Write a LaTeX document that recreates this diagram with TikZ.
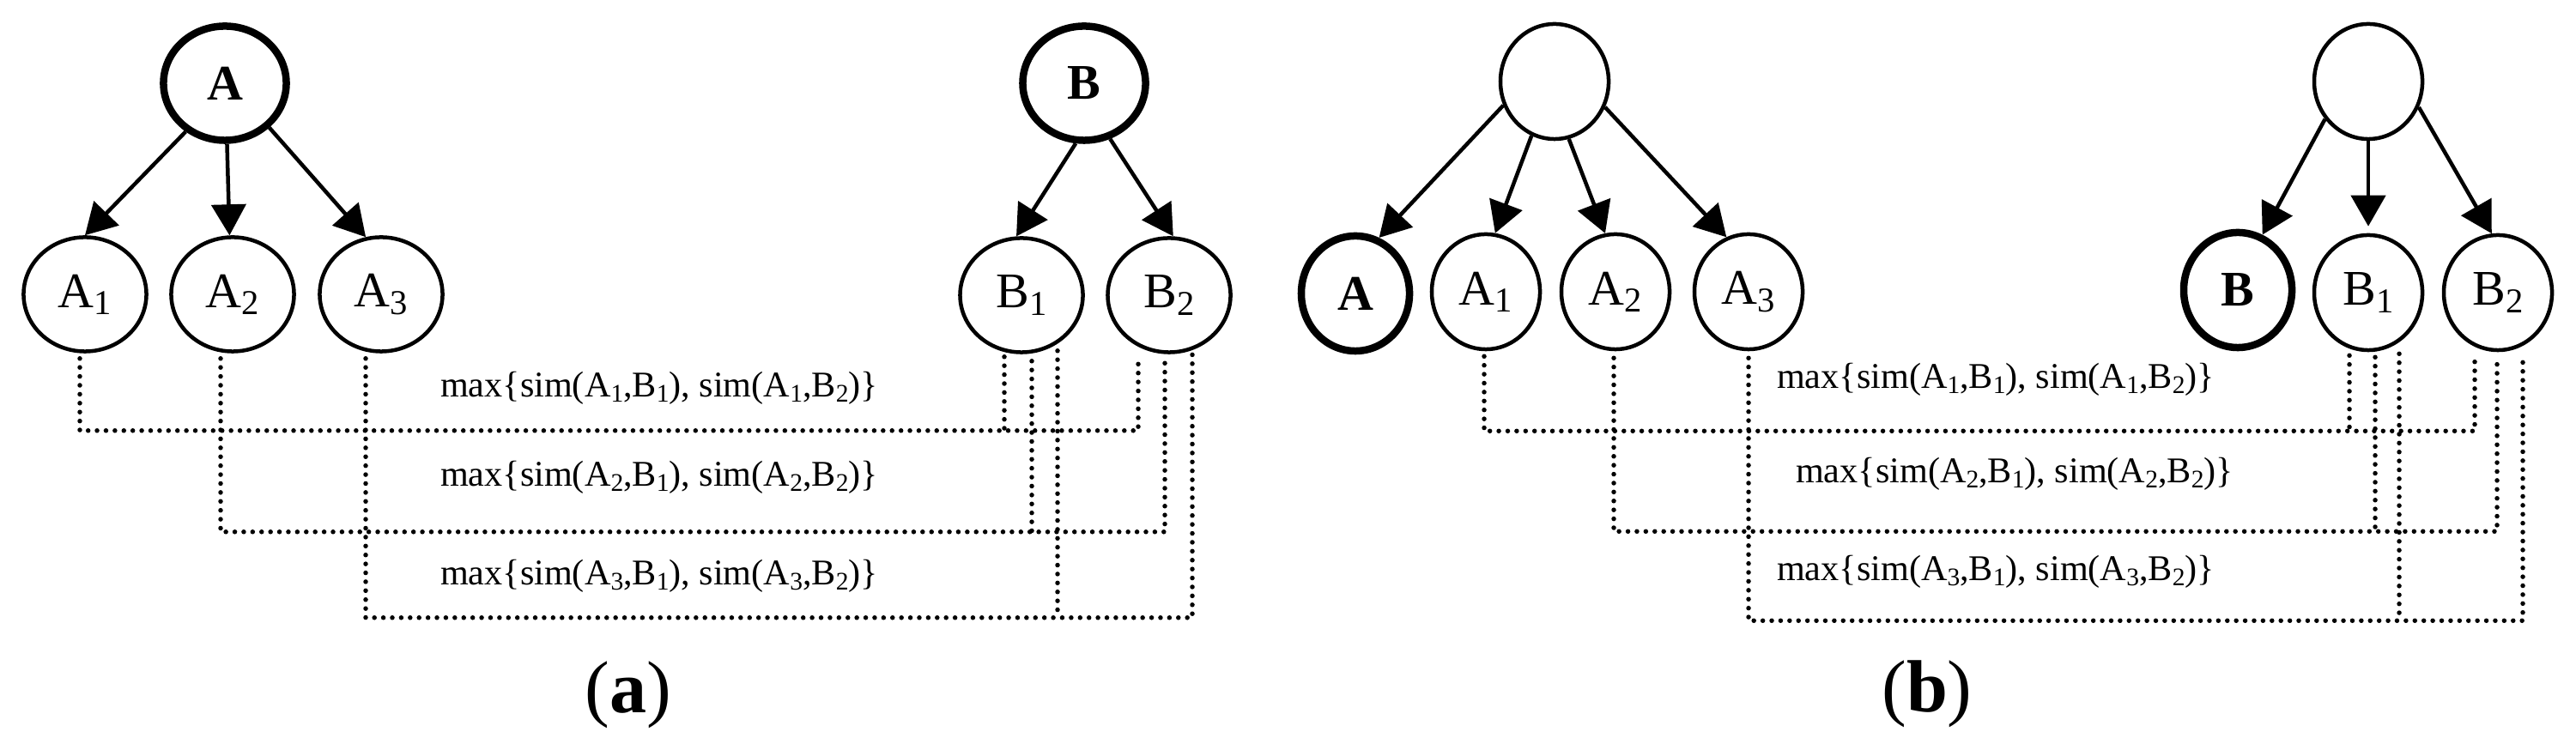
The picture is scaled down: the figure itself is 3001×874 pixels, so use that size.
\documentclass[tikz,border=0pt]{standalone}
\usepackage{fontspec}
\setmainfont{Liberation Serif}
\usepackage{graphicx}
\usetikzlibrary{calc,arrows.meta,shapes.geometric}
\def\lowidx#1{\raisebox{-0.14em}{\scalebox{0.7}{#1}}}

\begin{document}
\begin{tikzpicture}[x=0.01cm, y=-0.01cm,
		wide/.style={ellipse, draw, line width=0.045cm, inner sep=0pt, minimum width=1.43cm, minimum height=1.33cm, font=\fontsize{16.5}{18}\selectfont},
		narrow/.style={wide, minimum width=1.26cm, minimum height=1.34cm},
		heavy/.style={line width=0.085cm, font=\fontsize{16.5}{18}\selectfont\bfseries},
		arr/.style={line width=0.045cm, -{Triangle[length=0.36cm, width=0.40cm]}},
		dots/.style={line width=0.055cm, line cap=round, dash pattern=on 0pt off 0.104cm},
		formula/.style={anchor=base, font=\fontsize{12}{14}\selectfont},
		caption/.style={anchor=base, font=\fontsize{24.5}{28}\selectfont}]
		%%%%% START %%%%%
		
		\useasboundingbox (0, 0) rectangle (3001, 874);
		
		% (a)
		\node[wide, heavy] (A) at (262, 97) {A};
		\node[wide] (A1) at (99, 343) {A\lowidx{1}};
		\node[wide] (A2) at (271, 343) {A\lowidx{2}};
		\node[wide] (A3) at (444, 343) {A\lowidx{3}};
		\node[wide, heavy] (B) at (1263, 97) {B};
		\node[wide] (B1) at (1190, 344) {B\lowidx{1}};
		\node[wide] (B2) at (1362, 344) {B\lowidx{2}};
		
		\draw[arr] (A.-129) -- (A1.north);
		\draw[arr] (A.-88) -- (A2.93);
		\draw[arr] (A.-45) -- (A3.105);
		\draw[arr] (B.-98) -- (B1.95);
		\draw[arr] (B.-65) -- (B2.86);
		
		\draw[dots] ($(A1.south)+(-6,6)$) |- ($(B2.south)+(-36,89)$) -- ($(B2.south)+(-36,2)$);
		\draw[dots] ($(A2.south)+(-14,6)$) |- ($(B2.south)+(-5,207)$) -- ($(B2.south)+(-5,8)$);
		\draw[dots] ($(A3.south)+(-18,6)$) |- ($(B2.south)+(27,307)$) -- ($(B2.south)+(27,0)$);
		\draw[dots] ($(B1.south)+(-20,3)$) -- ($(B1.south)+(-20,89)$);
		\draw[dots] ($(B1.south)+(12,8)$) -- ($(B1.south)+(12,207)$);
		\draw[dots] ($(B1.south)+(42,-4)$) -- ($(B1.south)+(42,307)$);
		
		\node[formula] (fa1) at (768, 463) {max\{sim(A\lowidx{1},B\lowidx{1}), sim(A\lowidx{1},B\lowidx{2})\}};
		\node[formula] (fa2) at (768, 567) {max\{sim(A\lowidx{2},B\lowidx{1}), sim(A\lowidx{2},B\lowidx{2})\}};
		\node[formula] (fa3) at (768, 682) {max\{sim(A\lowidx{3},B\lowidx{1}), sim(A\lowidx{3},B\lowidx{2})\}};
		
		\node[caption] (capa) at (732, 831) {({\bfseries a})};
		
		% (b)
		\node[narrow] (pa) at (1811, 95) {};
		\node[narrow, heavy] (Ab) at (1579, 342) {A};
		\node[narrow] (A1b) at (1731, 340) {A\lowidx{1}};
		\node[narrow] (A2b) at (1882, 340) {A\lowidx{2}};
		\node[narrow] (A3b) at (2037, 340) {A\lowidx{3}};
		\node[narrow] (pb) at (2759, 95) {};
		\node[narrow, heavy] (Bb) at (2607, 338) {B};
		\node[narrow] (B1b) at (2759, 341) {B\lowidx{1}};
		\node[narrow] (B2b) at (2910, 341) {B\lowidx{2}};
		
		\draw[arr] (pa.-155) -- (Ab.67);
		\draw[arr] (pa.-113) -- (A1b.81);
		\draw[arr] (pa.-76) -- (A2b.100);
		\draw[arr] (pa.-27) -- (A3b.112);
		\draw[arr] (pb.-139) -- (Bb.66);
		\draw[arr, shorten >=0.08cm] (pb.-90) -- (B1b.north);
		\draw[arr] (pb.-27) -- (B2b.96);
		
		\draw[dots] ($(A1b.south)+(-2,6)$) |- ($(B2b.south)+(-27,92)$) -- ($(B2b.south)+(-27,4)$);
		\draw[dots] ($(A2b.south)+(-2,8)$) |- ($(B2b.south)+(-1,209)$) -- ($(B2b.south)+(-1,8)$);
		\draw[dots] ($(A3b.south)+(0,8)$) |- ($(B2b.south)+(29,313)$) -- ($(B2b.south)+(29,2)$);
		\draw[dots] ($(B1b.south)+(-22,4)$) -- ($(B1b.south)+(-22,92)$);
		\draw[dots] ($(B1b.south)+(8,6)$) -- ($(B1b.south)+(8,209)$);
		\draw[dots] ($(B1b.south)+(36,2)$) -- ($(B1b.south)+(36,313)$);
		
		\node[formula] (fb1) at (2325, 453) {max\{sim(A\lowidx{1},B\lowidx{1}), sim(A\lowidx{1},B\lowidx{2})\}};
		\node[formula] (fb2) at (2347, 563) {max\{sim(A\lowidx{2},B\lowidx{1}), sim(A\lowidx{2},B\lowidx{2})\}};
		\node[formula] (fb3) at (2325, 677) {max\{sim(A\lowidx{3},B\lowidx{1}), sim(A\lowidx{3},B\lowidx{2})\}};
		
		\node[caption] (capb) at (2245, 830) {({\bfseries b})};
		
		%%%%% END %%%%%
\end{tikzpicture}
\end{document}
